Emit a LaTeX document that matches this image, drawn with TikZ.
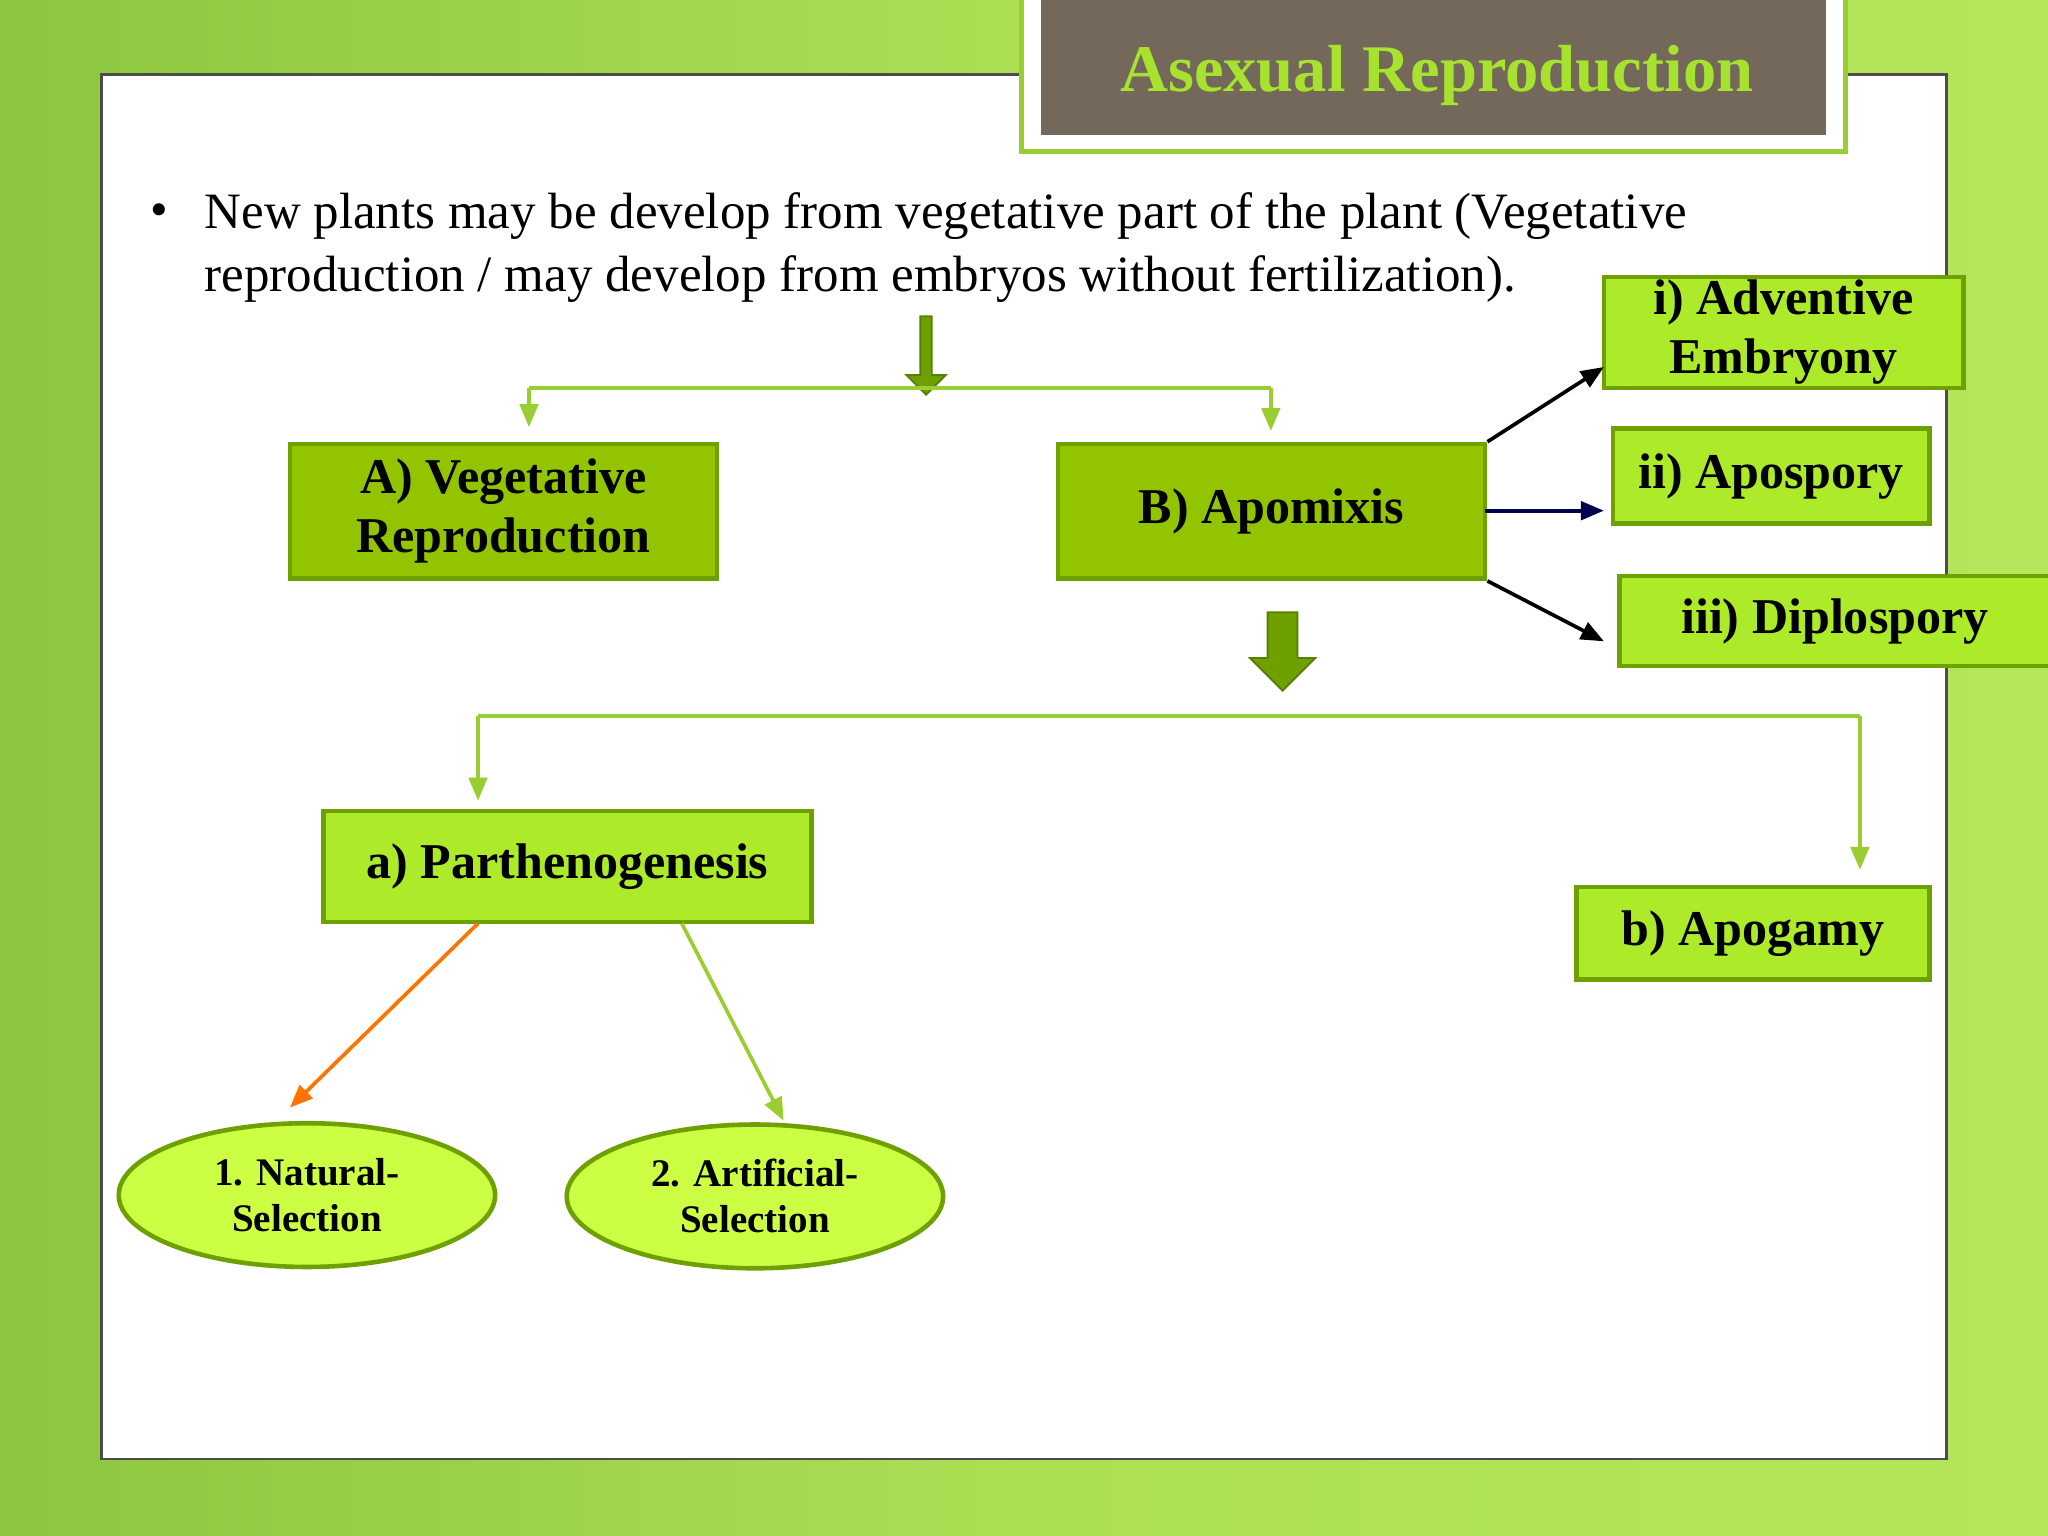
\documentclass[tikz,border=0pt]{standalone}
\usepackage{fontspec}
\setmainfont{Liberation Serif}
\usetikzlibrary{shapes.geometric,arrows.meta,shapes.arrows}
\definecolor{bgA}{HTML}{8CC63F}
\definecolor{bgB}{HTML}{B5E55A}
\definecolor{boxD}{HTML}{92C500}
\definecolor{boxL}{HTML}{ADEB2A}
\definecolor{boxE}{HTML}{CCFF44}
\definecolor{edge}{HTML}{6EA000}
\definecolor{conn}{HTML}{9ACD32}
\definecolor{titlebg}{HTML}{736859}
\definecolor{titlefg}{HTML}{A6E22E}
\begin{document}
\begin{tikzpicture}[x=0.01cm,y=-0.01cm,
 bx/.style={draw=edge,line width=1pt,font=\bfseries\fontsize{10.9}{12.8}\selectfont,align=center,inner sep=0pt},
 dk/.style={bx,fill=boxD},
 lt/.style={bx,fill=boxL},
 el/.style={ellipse,draw=edge,line width=1pt,fill=boxE,font=\bfseries\fontsize{8.5}{10}\selectfont,align=center,minimum width=2.88cm,minimum height=1.10cm,inner sep=0pt},
 cn/.style={conn,line width=0.8pt,-{Triangle[width=4pt,length=5pt]}},
 sa/.style={line width=0.8pt,-{Triangle[width=4pt,length=5pt]}}]
\useasboundingbox (0,0) rectangle (1568,1176);
\shade[left color=bgA,right color=bgB,middle color=bgB!80!bgA] (0,0) rectangle (1568,1176);
\draw[fill=white,draw=black!70,line width=0.6pt] (78,57) rectangle (1490,1117);
\draw[fill=white,draw=conn,line width=1pt] (782,-5) rectangle (1413,116);
\fill[titlebg] (797,-5) rectangle (1398,103);
\node[text=titlefg,font=\bfseries\fontsize{14.5}{16}\selectfont] (title) at (1100,58) {Asexual Reproduction};
\node[anchor=west,font=\fontsize{11}{12}\selectfont] (bul) at (103,165) {\textbullet};
\node[anchor=north west,align=left,font=\fontsize{11.1}{13.7}\selectfont,inner sep=0pt] (txt) at (156,147) {New plants may be develop from vegetative part of the plant (Vegetative\\reproduction / may develop from embryos without fertilization).};
\node[dk,minimum width=3.27cm,minimum height=1.03cm] (A) at (385.5,391.5) {A) Vegetative\\Reproduction};
\node[dk,minimum width=3.27cm,minimum height=1.03cm] (B) at (973.5,391.5) {B) Apomixis};
\node[lt,minimum width=2.75cm,minimum height=0.85cm] (i) at (1365.5,254.5) {i) Adventive\\Embryony};
\node[lt,minimum width=2.42cm,minimum height=0.73cm] (ii) at (1356,364.5) {ii) Apospory};
\node[lt,minimum width=3.30cm,minimum height=0.69cm,anchor=west] (iii) at (1238,475.5) {iii) Diplospory};
\node[lt,minimum width=3.73cm,minimum height=0.85cm] (pa) at (434.5,663.5) {a) Parthenogenesis};
\node[lt,minimum width=2.70cm,minimum height=0.71cm] (ap) at (1342,714.5) {b) Apogamy};
\node[el] (n1) at (235,915) {1. Natural-\\Selection};
\node[el] (n2) at (578,916) {2. Artificial-\\Selection};
\node[single arrow,shape border rotate=270,fill=edge,draw=edge!80!black,minimum height=0.6cm,minimum width=0.3cm,single arrow head extend=0.06cm,single arrow tip angle=90,inner sep=0.5pt,line width=0.4pt] (ar1) at (709,270) {};
\node[single arrow,shape border rotate=270,fill=edge,draw=edge!80!black,minimum height=0.6cm,minimum width=0.5cm,single arrow head extend=0.05cm,single arrow tip angle=90,inner sep=1pt,line width=0.4pt] (ar2) at (982,493) {};
\coordinate (l1) at (405,297); \coordinate (r1) at (973,297);
\coordinate (l2) at (366,548); \coordinate (r2) at (1424,548);
\coordinate (e1) at (222,848); \coordinate (e2) at (600,858);
\draw[conn,line width=0.8pt] (l1) -- (r1);
\draw[cn] (l1) -- (405,327);
\draw[cn] (r1) -- (973,330);
\draw[conn,line width=0.8pt] (l2) -- (r2);
\draw[cn] (l2) -- (366,613);
\draw[cn] (r2) -- (1424,666);
\draw[sa,black] (B.north east) -- (1228,281);
\draw[sa,blue!30!black] (1137,391) -- (1228,391);
\draw[sa,black] (B.south east) -- (1228,491);
\draw[sa,orange!90!red] (366,707) -- (e1);
\draw[sa,conn] (522,707) -- (e2);
\end{tikzpicture}
\end{document}
